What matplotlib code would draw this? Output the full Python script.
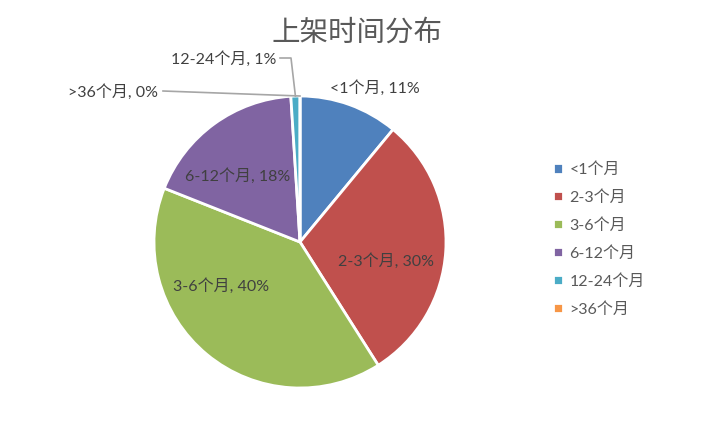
import matplotlib
matplotlib.use("Agg")
import matplotlib.pyplot as plt
import numpy as np

plt.rcParams['font.family'] = ['Lato', 'Noto Sans CJK SC', 'DejaVu Sans']

categories = ['<1个月', '2-3个月', '3-6个月', '6-12个月', '12-24个月', '>36个月']
values = [11, 30, 40, 18, 1, 0]
colors = ['#4F81BD', '#C0504D', '#9BBB59', '#8064A2', '#4BACC6', '#F79646']

W, H, dpi = 720, 432, 100
fig = plt.figure(figsize=(W / dpi, H / dpi), dpi=dpi)

# pie axes: centre (300, 242) px, radius 146 px
cx, cy, r = 300, 242, 146
ax = fig.add_axes([(cx - r) / W, (H - cy - r) / H, 2 * r / W, 2 * r / H])
wedges, _ = ax.pie(values, colors=colors, startangle=90, counterclock=False,
                   radius=1, wedgeprops=dict(edgecolor='white', linewidth=2))
ax.set_xlim(-1, 1)
ax.set_ylim(-1, 1)
ax.set_aspect('equal')
ax.axis('off')

def px(x, y):
    # pixel -> data coords of pie axes
    return (x - cx) / r, (cy - y) / r

total = sum(values)
pct = [f"{v / total * 100:.0f}%" for v in values]
labels = [f"{c}, {p}" for c, p in zip(categories, pct)]

txt = dict(fontsize=11.5, color='#404040', clip_on=False)
# inside / near labels
ax.text(*px(375, 88), labels[0], ha='center', va='center', **txt)
ax.text(*px(386, 261), labels[1], ha='center', va='center', **txt)
ax.text(*px(221, 286), labels[2], ha='center', va='center', **txt)
ax.text(*px(238, 176), labels[3], ha='center', va='center', **txt)

# labels with leader lines
def edge_point(i):
    w = wedges[i]
    ang = np.deg2rad((w.theta1 + w.theta2) / 2)
    return np.cos(ang), np.sin(ang)

ex, ey = edge_point(4)
ax.text(*px(276, 59), labels[4], ha='right', va='center', **txt)
lx, ly = px(280, 58)
mx, my = px(291, 58)
ax.plot([lx, mx, ex], [ly, my, ey], color='#A6A6A6', lw=1.2, clip_on=False)

ex, ey = edge_point(5)
ax.text(*px(158, 92), labels[5], ha='right', va='center', **txt)
lx, ly = px(163, 91)
ax.plot([lx, ex], [ly, ey], color='#A6A6A6', lw=1.2, clip_on=False)

fig.text(357 / W, 1 - 32 / H, '上架时间分布', ha='center', va='center',
         fontsize=20.5, color='#595959')

leg = fig.legend(wedges, categories, loc='upper left',
                 bbox_to_anchor=(539 / W, 1 - 148 / H), frameon=False,
                 fontsize=11.5, handlelength=0.6, handleheight=0.6,
                 handletextpad=0.4, labelspacing=0.82, labelcolor='#595959')

fig.savefig('out.png', dpi=dpi)
